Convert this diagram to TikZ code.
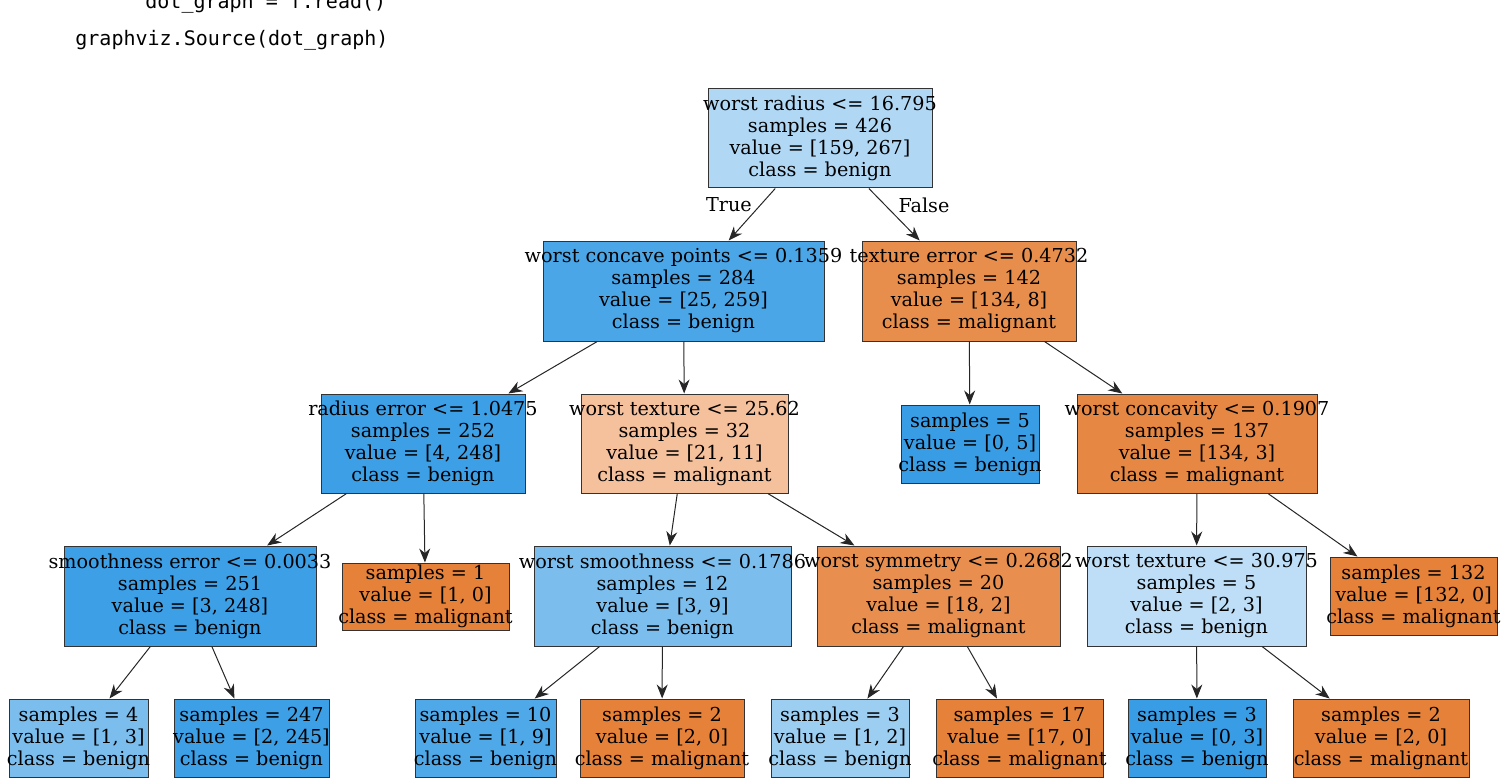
\documentclass[tikz,border=0pt]{standalone}
\usepackage{fontspec}
\setmainfont{DejaVu Serif}
\newfontfamily\codefont{DejaVu Sans Mono}
\usetikzlibrary{arrows.meta}
\newcommand\tbox[7]{%
  \node[draw=black!80,line width=0.5pt,fill=#6,inner sep=0pt,
        minimum width={(#4-#2)*0.5pt},minimum height={(#5-#3)*0.5pt}]
        (#1) at ({(#2+#4)/2},{(#3+#5)/2}) {};
  \node[txt] at (#1) {#7};}
\begin{document}
\begin{tikzpicture}[x=0.5pt,y=-0.5pt,
  txt/.style={align=center,inner sep=0pt,font=\fontsize{9.6}{11}\selectfont},
  edge/.style={-{Stealth[length=7pt,width=5.5pt]},line width=0.5pt,black!85}]
\useasboundingbox (0,0) rectangle (1511,781);
\clip (0,0) rectangle (1511,781);
\node[anchor=west,font=\codefont\fontsize{10}{12}\selectfont,inner sep=0pt] (c1) at (145,3) {dot\_graph = f.read()};
\node[anchor=west,font=\codefont\fontsize{10}{12}\selectfont,inner sep=0pt] (c2) at (75,40) {graphviz.Source(dot\_graph)};
\definecolor{cA}{HTML}{B0D8F5}
\definecolor{cB}{HTML}{4BA6E7}
\definecolor{cC}{HTML}{E88E4D}
\definecolor{cD}{HTML}{3D9FE6}
\definecolor{cE}{HTML}{F5C09C}
\definecolor{cF}{HTML}{399DE5}
\definecolor{cG}{HTML}{E68743}
\definecolor{cH}{HTML}{E58139}
\definecolor{cI}{HTML}{7BBEEE}
\definecolor{cJ}{HTML}{E88F4F}
\definecolor{cK}{HTML}{BDDEF6}
\definecolor{cL}{HTML}{4FA8E8}
\definecolor{cM}{HTML}{9CCEF2}
\tbox{r}{708}{89}{932}{188}{cA}{worst radius <= 16.795\\samples = 426\\value = [159, 267]\\class = benign}
\tbox{n1}{543}{241}{824}{341}{cB}{worst concave points <= 0.1359\\samples = 284\\value = [25, 259]\\class = benign}
\tbox{n2}{862}{241}{1076}{341}{cC}{texture error <= 0.4732\\samples = 142\\value = [134, 8]\\class = malignant}
\tbox{n3}{321}{394}{525}{493}{cD}{radius error <= 1.0475\\samples = 252\\value = [4, 248]\\class = benign}
\tbox{n4}{581}{394}{788}{493}{cE}{worst texture <= 25.62\\samples = 32\\value = [21, 11]\\class = malignant}
\tbox{n5}{901}{405}{1039}{483}{cF}{samples = 5\\value = [0, 5]\\class = benign}
\tbox{n6}{1077}{394}{1317}{493}{cG}{worst concavity <= 0.1907\\samples = 137\\value = [134, 3]\\class = malignant}
\tbox{n7}{64}{546}{316}{646}{cD}{smoothness error <= 0.0033\\samples = 251\\value = [3, 248]\\class = benign}
\tbox{n8}{342}{563}{509}{630}{cH}{samples = 1\\value = [1, 0]\\class = malignant}
\tbox{n9}{534}{546}{791}{646}{cI}{worst smoothness <= 0.1786\\samples = 12\\value = [3, 9]\\class = benign}
\tbox{n10}{817}{546}{1060}{646}{cJ}{worst symmetry <= 0.2682\\samples = 20\\value = [18, 2]\\class = malignant}
\tbox{n11}{1087}{546}{1306}{646}{cK}{worst texture <= 30.975\\samples = 5\\value = [2, 3]\\class = benign}
\tbox{n12}{1330}{557}{1497}{635}{cH}{samples = 132\\value = [132, 0]\\class = malignant}
\tbox{l1}{9}{699}{148}{777}{cI}{samples = 4\\value = [1, 3]\\class = benign}
\tbox{l2}{174}{699}{329}{777}{cD}{samples = 247\\value = [2, 245]\\class = benign}
\tbox{l3}{415}{699}{556}{777}{cL}{samples = 10\\value = [1, 9]\\class = benign}
\tbox{l4}{580}{699}{744}{777}{cH}{samples = 2\\value = [2, 0]\\class = malignant}
\tbox{l5}{771}{699}{909}{777}{cM}{samples = 3\\value = [1, 2]\\class = benign}
\tbox{l6}{936}{699}{1103}{777}{cH}{samples = 17\\value = [17, 0]\\class = malignant}
\tbox{l7}{1128}{699}{1266}{777}{cF}{samples = 3\\value = [0, 3]\\class = benign}
\tbox{l8}{1293}{699}{1469}{777}{cH}{samples = 2\\value = [2, 0]\\class = malignant}
\draw[edge] (r) -- (n1);
\draw[edge] (r) -- (n2);
\draw[edge] (n1) -- (n3);
\draw[edge] (n1) -- (n4);
\draw[edge] (n2) -- (n5);
\draw[edge] (n2) -- (n6);
\draw[edge] (n3) -- (n7);
\draw[edge] (n3) -- (n8);
\draw[edge] (n4) -- (n9);
\draw[edge] (n4) -- (n10);
\draw[edge] (n6) -- (n11);
\draw[edge] (n6) -- (n12);
\draw[edge] (n7) -- (l1);
\draw[edge] (n7) -- (l2);
\draw[edge] (n9) -- (l3);
\draw[edge] (n9) -- (l4);
\draw[edge] (n10) -- (l5);
\draw[edge] (n10) -- (l6);
\draw[edge] (n11) -- (l7);
\draw[edge] (n11) -- (l8);
\node[txt] (tT) at (729,205) {True};
\node[txt] (tF) at (924,205) {False};
\end{tikzpicture}
\end{document}
